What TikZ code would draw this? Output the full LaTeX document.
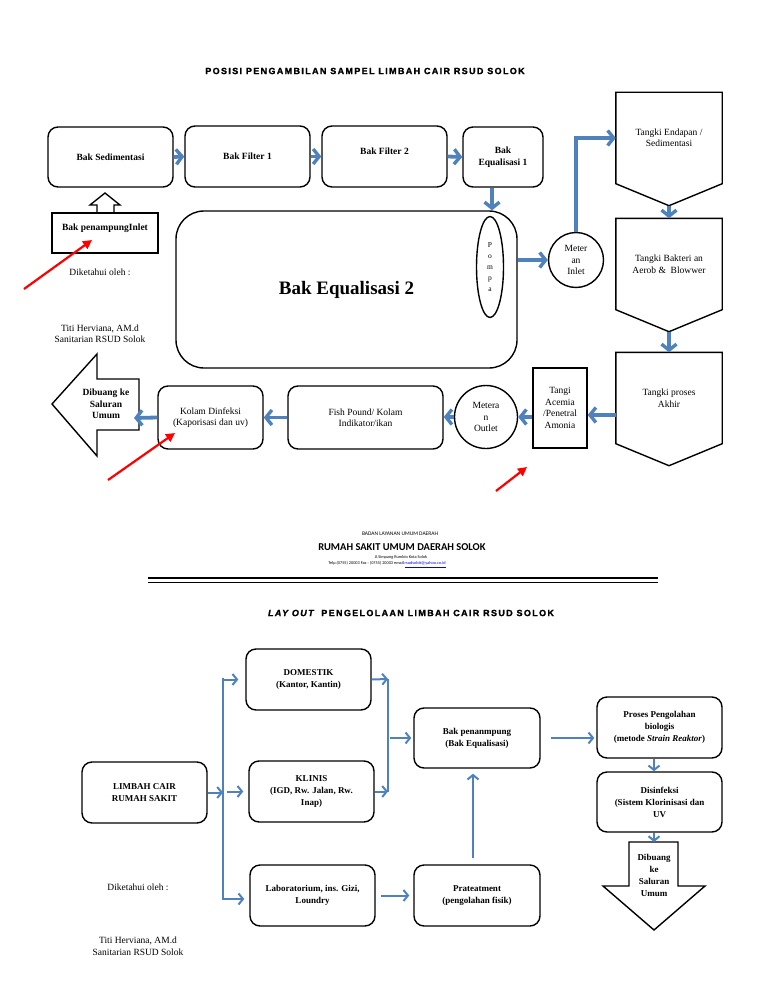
\documentclass[tikz,border=0pt]{standalone}
\usepackage{fontspec}
\setmainfont{Liberation Serif}[BoldFont={Liberation Serif Bold}, ItalicFont={Liberation Serif Italic}, BoldItalicFont={Liberation Serif Bold Italic}]
\newfontfamily\titlefont[LetterSpace=15, FakeBold=1.6]{Liberation Sans Bold}
\newfontfamily\titleitfont[LetterSpace=15, FakeBold=1.6]{Liberation Sans Bold Italic}
\newfontfamily\calfont[BoldFont={Carlito Bold}]{Carlito}
\usetikzlibrary{arrows.meta,calc,shapes.geometric}
\definecolor{wblue}{RGB}{79,129,189}
\newcommand\mytxt{\fontsize{9.5}{11.5}\selectfont}
\newcommand\mybold{\fontsize{9.5}{11.5}\selectfont\bfseries}
\newcommand\lowbold{\fontsize{9}{12}\selectfont\bfseries}
\newcommand\drawpent[1]{\draw[line width=1.4pt] (#1.north west) -- (#1.north east) -- (#1.south east) -- ([yshift=-22pt]#1.south) -- (#1.south west) -- cycle;
\coordinate (#1Tip) at ([yshift=-22pt]#1.south);}
\tikzset{
  rbox/.style={draw, line width=1.4pt, rounded corners=10pt, align=center, inner sep=1pt},
  sbox/.style={draw, line width=1.4pt, align=center, inner sep=1pt},
  tank/.style={minimum width=106pt, minimum height=91pt, inner sep=0pt, align=center, font=\mytxt},
  txt/.style={align=center, inner sep=0pt, font=\mytxt},
  barrow/.style={draw=wblue, line width=3.8pt, -{Straight Barb[length=6pt,width=15pt,line width=3.4pt]}},
  sarrow/.style={draw=wblue, line width=2pt, -{Straight Barb[length=4.5pt,width=11pt,line width=2pt]}},
  sline/.style={draw=wblue, line width=2pt},
  rarrow/.style={draw=red, line width=2.2pt, -{Triangle[length=9pt,width=9pt]}},
  shapeline/.style={draw, line width=1.4pt}
}
\begin{document}
\begin{tikzpicture}[x=1pt,y=-1pt]
\useasboundingbox (0,0) rectangle (768,1006);

% ---------- Title top
\node[inner sep=0pt, font={\titlefont\fontsize{9}{10}\selectfont}] (title1) at (365,71) {POSISI PENGAMBILAN SAMPEL LIMBAH CAIR RSUD SOLOK};

% ---------- top row
\node[rbox, minimum width=125pt, minimum height=60pt, font=\mybold] (sed) at (110.5,157) {Bak Sedimentasi};
\node[rbox, minimum width=125pt, minimum height=61pt, font=\mybold] (f1) at (247.5,156.5) {Bak Filter 1};
\node[rbox, minimum width=125pt, minimum height=61pt] (f2) at (384.5,156.5) {};
\node[txt, font=\mybold] (f2t) at (384.5,151) {Bak Filter 2};
\node[rbox, minimum width=80pt, minimum height=60pt, font=\mybold] (eq1) at (503,157) {Bak\\Equalisasi 1};

\draw[barrow] (sed.east) -- (f1.west);
\draw[barrow] (f1.east) -- (f2.west);
\draw[barrow] (f2.east) -- (eq1.west);

% inlet box with up arrow
\node[sbox, minimum width=106pt, minimum height=40pt] (pinlet) at (105,233) {};
\node[txt, font=\mybold] (pinlett) at (105,228) {Bak penampungInlet};
\draw[shapeline] (97,213) -- (97,205) -- (90,205) -- (105,193) -- (120,205) -- (114,205) -- (114,213);

% Bak Equalisasi 2
\node[draw, line width=1.4pt, rounded corners=28pt, minimum width=341pt, minimum height=157pt, inner sep=0pt,
      font={\fontsize{19}{22}\selectfont\bfseries}] (eq2) at (346.5,289.5) {Bak Equalisasi 2};
\node[draw, ellipse, line width=1.4pt, minimum width=27pt, minimum height=101pt, inner sep=0pt, align=center,
      font={\fontsize{7.5}{11}\selectfont}] (pompa) at (490,267) {P\\o\\m\\p\\a};
\draw[barrow] ([xshift=-11pt]eq1.south) -- ([xshift=-11pt]eq1.south |- eq2.north);

% meter inlet
\node[draw, circle, line width=1.4pt, minimum size=55pt, inner sep=0pt, align=center, font=\mytxt] (meterin) at (576,260) {Meter\\an\\Inlet};
\draw[barrow] (meterin.west -| eq2.east) -- (meterin.west);

% tanks
\node[tank] (endap) at (669,138) {Tangki Endapan /\\Sedimentasi};
\drawpent{endap}
\node[tank] (bakteri) at (669,264) {Tangki Bakteri an\\Aerob \&\ \ Blowwer};
\drawpent{bakteri}
\node[tank] (proses) at (669,398) {Tangki proses\\Akhir};
\drawpent{proses}

\draw[barrow] (meterin.north) |- (endap.west);
\draw[barrow] (endapTip) -- (bakteri.north);
\draw[barrow] (bakteriTip) -- (proses.north);

% bottom row of top section
\node[sbox, minimum width=54pt, minimum height=80pt, inner sep=0pt, font=\mytxt] (acemia) at (560,408) {Tangi\\Acemia\\/Penetral\\Amonia};
\node[draw, circle, line width=1.4pt, minimum size=63pt, inner sep=0pt, align=center, font=\mytxt] (meterout) at (486,417) {Metera\\n\\Outlet};
\node[rbox, minimum width=155pt, minimum height=63pt, font=\mytxt] (fish) at (365.5,417.5) {Fish Pound/ Kolam\\Indikator/ikan};
\node[rbox, minimum width=105pt, minimum height=63pt, font=\mytxt] (kolam) at (210.5,417.5) {Kolam Dinfeksi\\(Kaporisasi dan uv)};

\draw[shapeline] (139,379) -- (97,379) -- (97,354) -- (52,404) -- (97,456) -- (97,430) -- (139,430) -- cycle;
\node[txt, font=\mybold] (dibA) at (106,404) {Dibuang ke\\Saluran\\Umum};
\coordinate (dibAin) at (134,418);

\draw[barrow] ($(acemia.east -| proses.west)+(0,7)$) -- ($(acemia.east)+(0,7)$);
\draw[barrow] (acemia.west |- meterout.east) -- (meterout.east);
\draw[barrow] (meterout.west) -- (meterout.west -| fish.east);
\draw[barrow] (fish.west) -- (fish.west -| kolam.east);
\draw[barrow] (kolam.west) -- (dibAin);

% red arrows
\coordinate (r1s) at (24,289); \coordinate (r1e) at (92,240);
\coordinate (r2s) at (108,480); \coordinate (r2e) at (175,433);
\coordinate (r3s) at (496,491); \coordinate (r3e) at (527,467);
\draw[rarrow] (r1s) -- (r1e);
\draw[rarrow] (r2s) -- (r2e);
\draw[rarrow] (r3s) -- (r3e);

% signature top
\node[txt] (dik1) at (100,272) {Diketahui oleh :};
\node[txt] (sig1) at (100,333.5) {Titi Herviana, AM.d\\Sanitarian RSUD Solok};

% ---------- footer
\node[inner sep=0pt, font={\calfont\fontsize{5.5}{6}\selectfont}] (ft1) at (400,534) {BADAN LAYANAN UMUM DAERAH};
\node[inner sep=0pt, font={\calfont\fontsize{10.5}{12}\selectfont\bfseries}] (ft2) at (402,547) {RUMAH SAKIT UMUM DAERAH SOLOK};
\node[inner sep=0pt, font={\calfont\fontsize{4.3}{5}\selectfont}] (ft3) at (401,557) {Jl.Simpang Rumbio Kota Solok};
\node[inner sep=0pt, font={\calfont\fontsize{4.3}{5}\selectfont}] (ft4) at (387,564.5) {Telp.(0755) 20003 Fax : (0755) 20003 email \textcolor{blue}{\underline{rsudsolok@yahoo.co.id}}};
\draw[line width=2.2pt] (148,578) -- (658,578);
\draw[line width=0.9pt] (148,582.5) -- (658,582.5);

% ---------- Title bottom
\node[inner sep=0pt, font={\titlefont\fontsize{9}{10}\selectfont}] (title2) at (411,613) {{\titleitfont LAY OUT}\ \ PENGELOLAAN LIMBAH CAIR RSUD SOLOK};

% ---------- bottom section
\node[rbox, minimum width=125pt, minimum height=61pt, font=\lowbold] (dom) at (308.5,679.5) {DOMESTIK\\(Kantor, Kantin)};
\node[rbox, minimum width=125pt, minimum height=61pt, font=\lowbold] (limbah) at (144.5,792.5) {LIMBAH CAIR\\RUMAH SAKIT};
\node[rbox, minimum width=125pt, minimum height=61pt, font=\lowbold] (klinis) at (311.5,791.5) {KLINIS\\(IGD, Rw. Jalan, Rw.\\Inap)};
\node[rbox, minimum width=126pt, minimum height=60pt, font=\lowbold] (bakp) at (477,738) {Bak penanmpung\\ (Bak Equalisasi)};
\node[rbox, minimum width=125pt, minimum height=61pt, font=\lowbold] (lab) at (312.5,895.5) {Laboratorium, ins. Gizi,\\Loundry};
\node[rbox, minimum width=126pt, minimum height=61pt, font=\lowbold] (prat) at (477,895.5) {Prateatment\\(pengolahan fisik)};
\node[rbox, minimum width=125pt, minimum height=61pt, font=\lowbold] (proses2) at (659.5,727.5) {Proses Pengolahan\\biologis\\(metode \textit{Strain Reaktor})};
\node[rbox, minimum width=125pt, minimum height=60pt, font=\lowbold] (disinf) at (659.5,802) {Disinfeksi\\(Sistem Klorinisasi dan\\UV};

\draw[shapeline] (629,842) -- (678,842) -- (678,886) -- (705,886) -- (654,930) -- (603,886) -- (629,886) -- cycle;
\node[txt, font=\lowbold] (dibB) at (654,875.5) {Dibuang\\ke\\Saluran\\Umum};
\coordinate (dibBtop) at (654,842);

\coordinate (trunkTop) at (223,678);
\coordinate (trunkBot) at (223,899);
\coordinate (colTop) at (388,679);

\draw[sarrow] (limbah.east) -- (limbah.east -| trunkTop);
\draw[sarrow, shorten >=7pt] (trunkTop |- dom.west) -- (dom.west);
\draw[sarrow, shorten >=5pt] (trunkTop) -- (trunkBot) -- (trunkBot -| lab.west);
\draw[sarrow, shorten <=4pt, shorten >=5pt] (trunkTop |- klinis.west) -- (klinis.west);

\draw[sarrow] (dom.east) -- (colTop);
\draw[sarrow] (klinis.east) -- (klinis.east -| colTop);
\draw[sline] (colTop) -- (colTop |- klinis.east);
\draw[sarrow, shorten <=2pt, shorten >=2pt] (colTop |- bakp.west) -- (bakp.west);

\draw[sarrow, shorten <=10pt, shorten >=2pt] (bakp.east) -- (bakp.east -| proses2.west);
\draw[sarrow, shorten <=6pt, shorten >=5pt] ([xshift=-4pt]prat.north) -- ([xshift=-4pt]bakp.south);
\draw[sarrow, shorten <=5pt, shorten >=4pt] (lab.east) -- (lab.east -| prat.west);
\draw[sarrow] ([xshift=-5.5pt]proses2.south) -- ([xshift=-5.5pt]disinf.north);
\draw[sarrow] ([xshift=-5.5pt]disinf.south) -- (dibBtop);

% signature bottom
\node[txt] (dik2) at (138,887) {Diketahui oleh :};
\node[txt] (sig2) at (138,946) {Titi Herviana, AM.d\\Sanitarian RSUD Solok};
\end{tikzpicture}
\end{document}
